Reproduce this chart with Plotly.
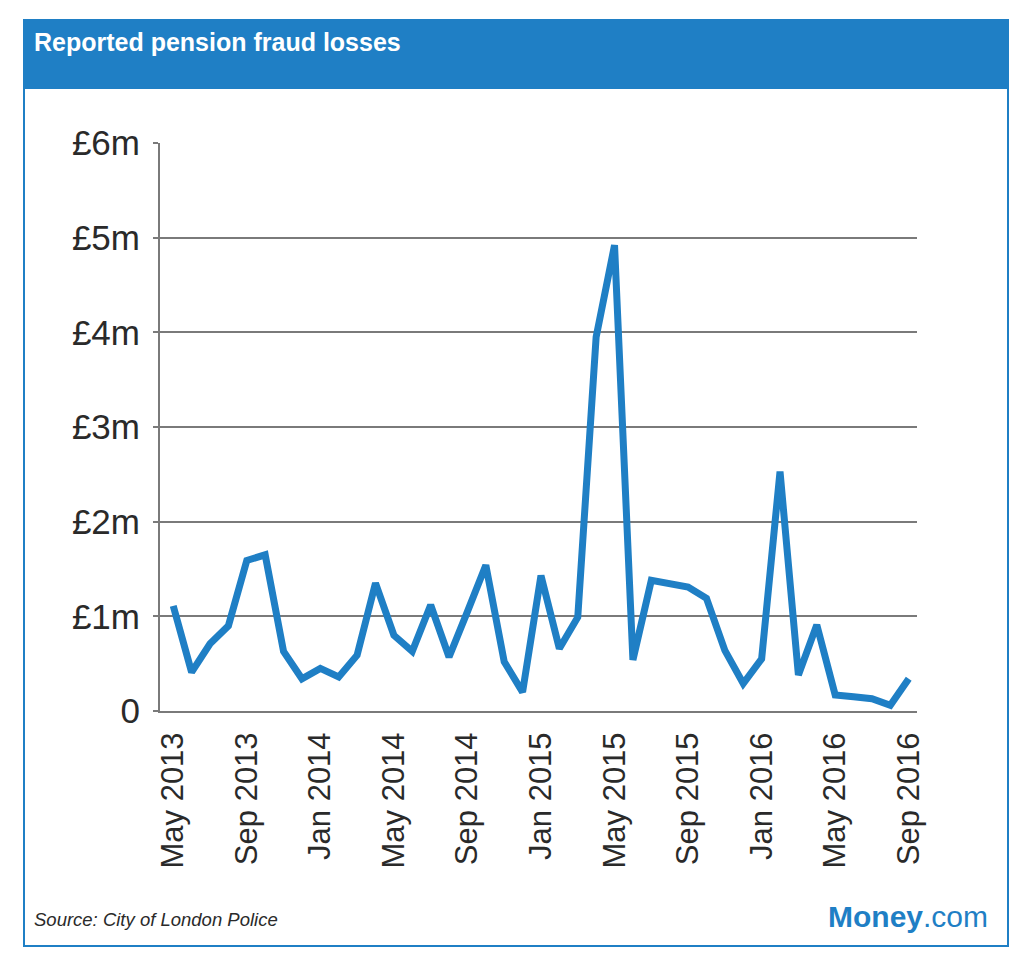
import plotly.graph_objects as go

W, H = 1024, 960

months = ["May 2013", "Jun 2013", "Jul 2013", "Aug 2013", "Sep 2013", "Oct 2013", "Nov 2013", "Dec 2013",
          "Jan 2014", "Feb 2014", "Mar 2014", "Apr 2014", "May 2014", "Jun 2014", "Jul 2014", "Aug 2014",
          "Sep 2014", "Oct 2014", "Nov 2014", "Dec 2014", "Jan 2015", "Feb 2015", "Mar 2015", "Apr 2015",
          "May 2015", "Jun 2015", "Jul 2015", "Aug 2015", "Sep 2015", "Oct 2015", "Nov 2015", "Dec 2015",
          "Jan 2016", "Feb 2016", "Mar 2016", "Apr 2016", "May 2016", "Jun 2016", "Jul 2016", "Aug 2016",
          "Sep 2016"]
losses_m = [1.11, 0.41, 0.71, 0.90, 1.59, 1.65, 0.63, 0.34,
            0.45, 0.36, 0.59, 1.35, 0.80, 0.63, 1.12, 0.57,
            1.05, 1.54, 0.52, 0.20, 1.43, 0.66, 0.99, 3.95,
            4.92, 0.54, 1.38, 1.35, 1.31, 1.19, 0.64, 0.29,
            0.55, 2.53, 0.38, 0.91, 0.17, 0.15, 0.13, 0.06,
            0.34]
tick_labels = ["May 2013", "Sep 2013", "Jan 2014", "May 2014", "Sep 2014", "Jan 2015",
               "May 2015", "Sep 2015", "Jan 2016", "May 2016", "Sep 2016"]
y_ticks = [0, 1, 2, 3, 4, 5, 6]
y_tick_text = ["0", "£1m", "£2m", "£3m", "£4m", "£5m", "£6m"]

title = "Reported pension fraud losses"
source = "Source: City of London Police"

BLUE = "#1f7fc5"
GRID = "#7a7a7a"
TEXT = "#2a2a2a"
FONT = "Liberation Sans, Arial, sans-serif"

x_idx = list(range(len(months)))
tick_idx = [months.index(t) for t in tick_labels]


def px(x):
    return x / W


def py(y):
    return 1 - y / H


fig = go.Figure()
fig.add_trace(go.Scatter(
    x=x_idx, y=losses_m, mode="lines",
    line=dict(color=BLUE, width=7),
    hoverinfo="skip", showlegend=False,
))

plot_l, plot_r, plot_t, plot_b = 160, 917, 143, 711

fig.update_layout(
    width=W, height=H,
    margin=dict(l=0, r=0, t=0, b=0, pad=0, autoexpand=False),
    paper_bgcolor="white", plot_bgcolor="white",
    showlegend=False,
    xaxis=dict(
        domain=[px(plot_l), px(plot_r)],
        range=[-0.72, 40.45],
        automargin=False,
        tickmode="array", tickvals=tick_idx, ticktext=tick_labels,
        tickangle=-90,
        tickfont=dict(family=FONT, size=31, color=TEXT),
        showgrid=False, zeroline=False,
        showline=True, linecolor=GRID, linewidth=2,
        ticks="", ticklabelstandoff=7,
    ),
    yaxis=dict(
        domain=[py(plot_b), py(plot_t)],
        range=[0, 6],
        automargin=False,
        tickmode="array", tickvals=y_ticks, ticktext=y_tick_text,
        tickfont=dict(family=FONT, size=35, color=TEXT),
        showgrid=True, gridcolor=GRID, gridwidth=2,
        zeroline=False,
        showline=True, linecolor=GRID, linewidth=2,
        ticks="outside", ticklen=5, tickcolor=GRID, tickwidth=2,
        ticklabelstandoff=6,
    ),
    shapes=[
        dict(type="rect", xref="paper", yref="paper",
             x0=px(24), x1=px(1008), y0=py(946), y1=py(20),
             line=dict(color=BLUE, width=2), fillcolor="rgba(0,0,0,0)", layer="above"),
        dict(type="rect", xref="paper", yref="paper",
             x0=px(24), x1=px(1008), y0=py(89), y1=py(20),
             line=dict(width=0), fillcolor=BLUE, layer="above"),
    ],
    annotations=[
        dict(text="<b>" + title + "</b>", xref="paper", yref="paper",
             x=px(32), y=py(42), xanchor="left", yanchor="middle", showarrow=False,
             font=dict(family=FONT, size=25, color="white")),
        dict(text="<i>" + source + "</i>", xref="paper", yref="paper",
             x=px(32), y=py(919), xanchor="left", yanchor="middle", showarrow=False,
             font=dict(family=FONT, size=18.5, color=TEXT)),
        dict(text="<b>Money</b>.com", xref="paper", yref="paper",
             x=px(990), y=py(916), xanchor="right", yanchor="middle", showarrow=False,
             font=dict(family=FONT, size=30, color=BLUE)),
    ],
)

fig.write_html("out.html")
